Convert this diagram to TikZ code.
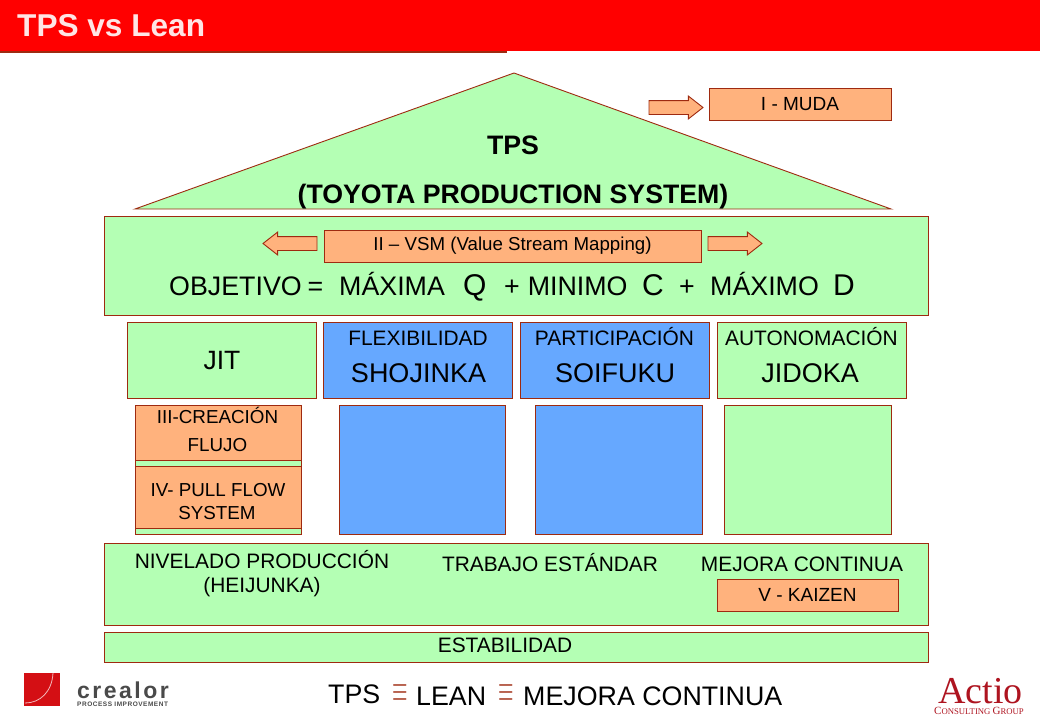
\documentclass[tikz,border=0pt]{standalone}
\usepackage{fontspec}
\setmainfont{Liberation Sans}
\newfontfamily\actiofont{Liberation Serif}
\usetikzlibrary{positioning, shapes.arrows}

\definecolor{housegreen}{HTML}{B4FFB4}
\definecolor{pillarblue}{HTML}{66A8FF}
\definecolor{tagorange}{HTML}{FFB27D}
\definecolor{edgered}{HTML}{9E2A10}
\definecolor{logored}{HTML}{D40F14}
\definecolor{logogrey}{HTML}{4A4A4A}
\definecolor{actiored}{HTML}{AE1420}

\tikzset{
  box/.style={draw=edgered, line width=0.9pt, outer sep=0pt, inner sep=0pt, align=center},
  green box/.style={box, fill=housegreen},
  blue box/.style={box, fill=pillarblue},
  tag/.style={box, fill=tagorange, font=\fontsize{19}{23}\selectfont},
  block/.style={draw=edgered, line width=0.9pt, fill=tagorange, single arrow, inner sep=0pt, outer sep=0pt,
    text height=13pt, text depth=0pt, minimum width=22pt, minimum height=54pt,
    single arrow head extend=4.5pt, single arrow tip angle=76},
  txt/.style={inner sep=0pt, align=center, text=black},
  big/.style={txt, font=\fontsize{26.8}{30}\selectfont, anchor=base west},
  letter/.style={txt, font=\fontsize{30}{34}\selectfont, anchor=base west},
  small/.style={txt, font=\fontsize{20.9}{24}\selectfont, anchor=base},
  pillarname/.style={txt, font=\fontsize{27}{31}\selectfont, anchor=base}
}

\begin{document}
\begin{tikzpicture}[x=1pt,y=-1pt]
  \useasboundingbox (0,0) rectangle (1040,720);

% header band
  \fill[red] (0,0) rectangle (1040,51);
  \fill[edgered] (0,51) rectangle (507,52.5);
  \node[txt, text=white!90!red, font=\bfseries\fontsize{31.6}{35}\selectfont, anchor=west] (title) at (17,26) {TPS vs Lean};

% roof
  \draw[fill=housegreen, draw=edgered, line width=0.9pt] (135,209) -- (514,73) -- (891,209) -- cycle;
  \node[txt, font=\bfseries\fontsize{26.7}{30}\selectfont] (tps) at (513,145) {TPS};
  \node[txt, font=\bfseries\fontsize{26.7}{30}\selectfont] (tpsname) at (513,197) {(TOYOTA PRODUCTION SYSTEM)};
  \node[tag, minimum width=182pt, minimum height=32pt] (muda) at (800,104) {\raisebox{1pt}{I - MUDA}};
  \node[block, right] (mudaarrow) at (649,107.5) {};

% objective band
  \node[green box, minimum width=824pt, minimum height=99pt] (objetivo) at (516,265.5) {};
  \node[tag, minimum width=377pt, minimum height=32pt, font=\fontsize{18.7}{22}\selectfont] (vsm) at (512.5,246) {II – VSM (Value Stream Mapping)};
  \node[block, shape border rotate=180, left=7pt of vsm, yshift=2.5pt] (vsmleft) {};
  \node[block, right=7pt of vsm, yshift=2.5pt] (vsmright) {};
  \node[big] (obj) at (169,295) {OBJETIVO\hspace{6pt}=};
  \node[big] (maxq) at (339,295) {MÁXIMA};
  \node[letter] (q) at (463,295) {Q};
  \node[big] (minc) at (504,295) {+\hspace{8pt}MINIMO};
  \node[letter] (c) at (642,295) {C};
  \node[big] (plusd) at (679,295) {+};
  \node[big] (maxd) at (710,295) {MÁXIMO};
  \node[letter] (d) at (833,295) {D};

% the four headers
  \node[green box, minimum width=189pt, minimum height=76pt] (jit) at (221.5,360) {};
  \node[blue box, minimum width=189pt, minimum height=76pt, right=7pt of jit] (flex) {};
  \node[blue box, minimum width=189pt, minimum height=76pt, right=8pt of flex] (part) {};
  \node[green box, minimum width=189pt, minimum height=76pt, right=8pt of part] (auto) {};
  \node[txt, font=\fontsize{26.5}{30}\selectfont] at (222,361) (jittxt) {JIT};
  \node[small] at (418,345) (flextxt) {FLEXIBILIDAD};
  \node[pillarname] at (418.5,382) (shojinka) {SHOJINKA};
  \node[small] at (614.5,345) (parttxt) {PARTICIPACIÓN};
  \node[pillarname] at (615,382) (soifuku) {SOIFUKU};
  \node[small] at (811.5,345) (autotxt) {AUTONOMACIÓN};
  \node[pillarname] at (810,382) (jidoka) {JIDOKA};

% the four pillars
  \node[green box, minimum width=166pt, minimum height=129pt] (pillarone) at (218,469.5) {};
  \node[blue box, minimum width=166pt, minimum height=129pt] (pillartwo) at (422,469.5) {};
  \node[blue box, minimum width=167pt, minimum height=129pt] (pillarthree) at (618.5,469.5) {};
  \node[green box, minimum width=167pt, minimum height=129pt] (pillarfour) at (807.5,469.5) {};
  \node[tag, minimum width=166pt, minimum height=55pt] (flujo) at (218,432.5) {};
  \node[tag, minimum width=166pt, minimum height=62pt] (pull) at (218,497) {};
  \node[txt, font=\fontsize{18.8}{22}\selectfont, anchor=base] (flujoone) at (217.5,423) {III-CREACIÓN};
  \node[txt, font=\fontsize{18.8}{22}\selectfont, anchor=base] (flujotwo) at (217.5,451) {FLUJO};
  \node[txt, font=\fontsize{18.8}{22}\selectfont, anchor=base] (pullone) at (218,496) {IV- PULL FLOW};
  \node[txt, font=\fontsize{18.8}{22}\selectfont, anchor=base] (pulltwo) at (217,519.5) {SYSTEM};

% foundations
  \node[green box, minimum width=824pt, minimum height=82pt] (base) at (516,584) {};
  \node[small] (nivelado) at (262,568) {NIVELADO PRODUCCIÓN};
  \node[small] (heijunka) at (262,592) {(HEIJUNKA)};
  \node[small] (trabajo) at (550,571.5) {TRABAJO ESTÁNDAR};
  \node[small] (mejora) at (802,571) {MEJORA CONTINUA};
  \node[tag, minimum width=181pt, minimum height=32pt] (kaizen) at (807.5,595) {V - KAIZEN};
  \node[green box, minimum width=824pt, minimum height=30pt, below=7pt of base] (estabilidad) {};
  \node[small] (estabtxt) at (505,652.5) {ESTABILIDAD};

% bottom line
  \node[big] (ftps) at (328,703) {TPS};
  \node[txt, text=edgered, anchor=center] (eqone) at (400.5,693) {\scalebox{0.8}[1.45]{\fontsize{32}{36}\selectfont$\equiv$}};
  \node[big] (flean) at (416,705) {LEAN};
  \node[txt, text=edgered, anchor=center] (eqtwo) at (506,693) {\scalebox{0.8}[1.45]{\fontsize{32}{36}\selectfont$\equiv$}};
  \node[big] (fmejora) at (523,705) {MEJORA CONTINUA};

% logos
  \node[fill=logored, minimum width=36pt, minimum height=33pt, inner sep=0pt, outer sep=0pt] (crealorbox) at (41.5,689.5) {};
  \draw[white!70!logored, line width=0.8pt] (25,703) .. controls (40,703) and (52,692) .. (53,673);
  \node[txt, text=logogrey, font=\bfseries\fontsize{23}{24}\selectfont\addfontfeature{LetterSpace=10.8}, anchor=base west, text depth=0pt] (crealor) at (77,698) {crealor};
  \node[txt, text=logogrey, font=\bfseries\fontsize{6.5}{7}\selectfont\addfontfeature{LetterSpace=8}, anchor=base west] (crealorsub) at (77,706) {PROCESS IMPROVEMENT};
  \node[txt, text=actiored, font=\actiofont\fontsize{38}{40}\selectfont, anchor=base east, text depth=0pt] (actio) at (1023,703) {Actio};
  \node[txt, text=actiored, font=\actiofont\fontsize{8.7}{10}\selectfont, anchor=base east, text height=6pt] (actiosub) at (1024,714) {{\fontsize{11}{10}\selectfont C}ONSULTING {\fontsize{11}{10}\selectfont G}ROUP};
\end{tikzpicture}
\end{document}
